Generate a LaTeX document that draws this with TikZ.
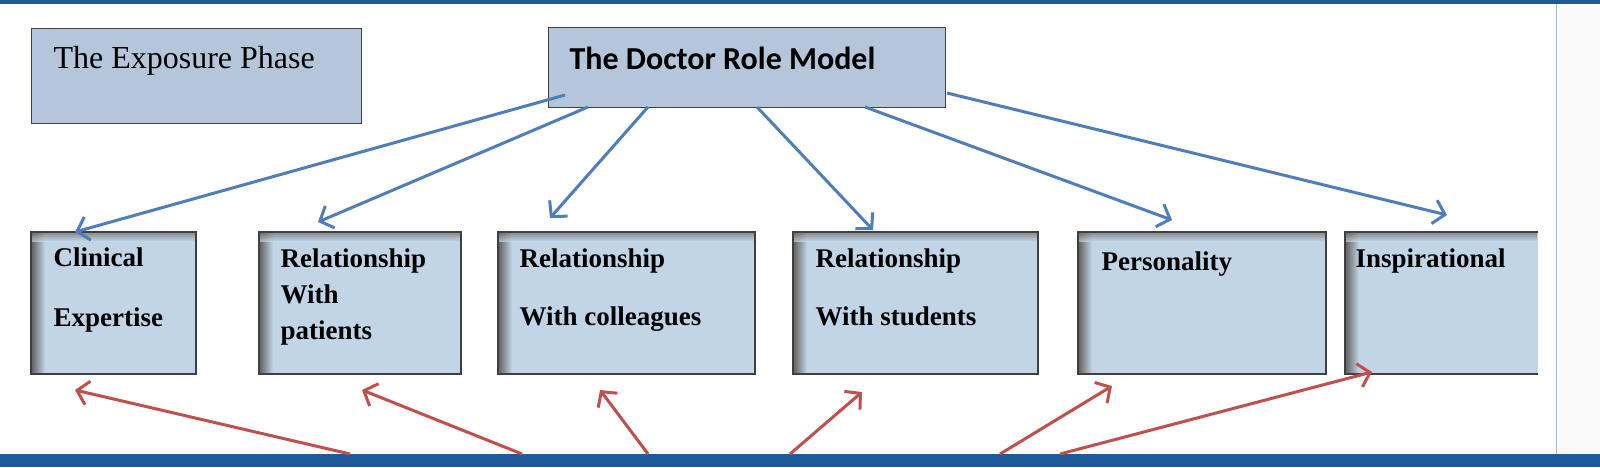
\documentclass[tikz,border=0pt]{standalone}
\usepackage{fontspec}
\setmainfont{Liberation Serif}
\newfontfamily\titlefont{Carlito}
\usetikzlibrary{arrows.meta}
\definecolor{boxfill}{HTML}{C2D5E6}
\definecolor{topfill}{HTML}{B5C6DB}
\definecolor{bluearr}{HTML}{4F7EBB}
\definecolor{redarr}{HTML}{C0504D}
\definecolor{frame}{HTML}{1F5A9A}
\tikzset{
  catbox/.style={fill=boxfill},
  toptext/.style={anchor=north west, font=\bfseries\fontsize{27}{36}\selectfont, align=left},
  bar/.style={-{Straight Barb[length=11pt,width=24pt]}, line width=3pt, bluearr},
  rbar/.style={-{Straight Barb[length=11pt,width=24pt]}, line width=3pt, redarr},
}
\newcommand{\catrect}[5]{%
  \path[catbox] (#1,#2) rectangle (#3,#4);
  \shade[left color=black!60, right color=boxfill] (#1+1,#2+1) rectangle (#1+14,#4-1);
  \shade[top color=black!55, bottom color=boxfill, opacity=0.7] (#1+1,#2+1) rectangle (#3-1,#2+9);
  \draw[black!75, line width=1.4pt] #5;
}
\begin{document}
\begin{tikzpicture}[x=1pt,y=-1pt]
\useasboundingbox (0,0) rectangle (1600,467);
\fill[white] (0,0) rectangle (1600,467);
\fill[frame] (0,0) rectangle (1600,4);
\fill[frame] (0,454) rectangle (1600,467);
\fill[black!2] (1555,4) rectangle (1600,454);
\draw[frame!40, line width=1pt] (1556,4) -- (1556,454);

\node[draw=black!75, line width=1.4pt, fill=topfill, minimum width=330pt, minimum height=95pt, anchor=north west] (expo) at (31,28) {};
\node[anchor=north west, font=\fontsize{32}{36}\selectfont] (expot) at (50,43) {The Exposure Phase};
\node[draw=black!75, line width=1.4pt, fill=topfill, minimum width=397pt, minimum height=80pt, anchor=north west] (doc) at (548,27) {};
\node[anchor=north west, font=\titlefont\bfseries\fontsize{32}{36}\selectfont] (doct) at (566,44) {The Doctor Role Model};

\catrect{31}{232}{196}{374}{(31,232) rectangle (196,374)}
\catrect{259}{232}{461}{374}{(259,232) rectangle (461,374)}
\catrect{498}{232}{755}{374}{(498,232) rectangle (755,374)}
\catrect{793}{232}{1038}{374}{(793,232) rectangle (1038,374)}
\catrect{1078}{232}{1326}{374}{(1078,232) rectangle (1326,374)}
\catrect{1345}{232}{1538}{374}{(1538,232) -- (1345,232) -- (1345,374) -- (1538,374)}

\node[toptext] (t1) at (50,244) {Clinical\\[24pt]Expertise};
\node[toptext] (t2) at (277,245) {Relationship\\With\\patients};
\node[toptext] (t3) at (516,245) {Relationship\\[22pt]With colleagues};
\node[toptext] (t4) at (812,245) {Relationship\\[22pt]With students};
\node[toptext] (t5) at (1098,248) {Personality};
\node[toptext] (t6) at (1352,245) {Inspirational};

\coordinate (b1s) at (565,95);  \coordinate (b1e) at (75,232);
\coordinate (b2s) at (588,107); \coordinate (b2e) at (318,222);
\coordinate (b3s) at (648,107); \coordinate (b3e) at (550,218);
\coordinate (b4s) at (757,107); \coordinate (b4e) at (873,230);
\coordinate (b5s) at (865,107); \coordinate (b5e) at (1172,220);
\coordinate (b6s) at (947,93);  \coordinate (b6e) at (1447,215);
\foreach \i in {1,...,6} \draw[bar] (b\i s) -- (b\i e);

\begin{scope}
\clip (0,4) rectangle (1600,454);
\coordinate (r1s) at (350,454);  \coordinate (r1e) at (75,390);
\coordinate (r2s) at (522,454);  \coordinate (r2e) at (362,390);
\coordinate (r3s) at (648,454);  \coordinate (r3e) at (600,390);
\coordinate (r4s) at (790,454);  \coordinate (r4e) at (862,392);
\coordinate (r5s) at (1000,454); \coordinate (r5e) at (1112,386);
\coordinate (r6s) at (1060,454); \coordinate (r6e) at (1372,372);
\foreach \i in {1,...,6} \draw[rbar] (r\i s) -- (r\i e);
\end{scope}
\end{tikzpicture}
\end{document}
